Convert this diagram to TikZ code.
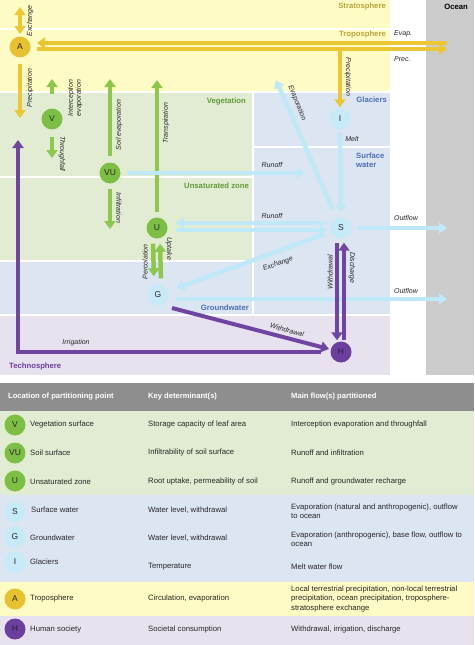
\documentclass[tikz,border=0pt]{standalone}
\usepackage{fontspec}
\setmainfont{Liberation Sans}
\usetikzlibrary{arrows.meta}
\definecolor{bgY}{HTML}{FFFBC4}
\definecolor{bgG}{HTML}{E2ECD2}
\definecolor{bgB}{HTML}{DCE5F2}
\definecolor{bgP}{HTML}{E8E2EF}
\definecolor{oceanC}{HTML}{CCCCCC}
\definecolor{hdr}{HTML}{8E8E8E}
\definecolor{arY}{HTML}{EDC633}
\definecolor{arG}{HTML}{8CC84B}
\definecolor{arB}{HTML}{BFE8F8}
\definecolor{arP}{HTML}{6F45A1}
\definecolor{ndY}{HTML}{E8C130}
\definecolor{ndG}{HTML}{7DBF45}
\definecolor{ndB}{HTML}{C6EAF8}
\definecolor{ndP}{HTML}{6C3F9E}
\definecolor{txY}{HTML}{B9A53E}
\definecolor{txG}{HTML}{5E9A38}
\definecolor{txB}{HTML}{4D6DB5}
\definecolor{txP}{HTML}{6A3D9A}
\tikzset{
  pnt/.style={circle, minimum size=21pt, inner sep=0pt, font=\fontsize{8.5}{9}\selectfont\upshape, text=black!85},
  ptY/.style={pnt, fill=ndY},
  ptG/.style={pnt, fill=ndG},
  ptB/.style={pnt, fill=ndB},
  ptP/.style={pnt, fill=ndP},
  tip/.style={-{Triangle[width=11pt,length=8pt]}},
  yarr/.style={draw=arY, line width=4.5pt, tip},
  garr/.style={draw=arG, line width=4.5pt, tip},
  barr/.style={draw=arB, line width=4.5pt, tip},
  parr/.style={draw=arP, line width=4pt, tip},
  lbl/.style={font=\fontsize{7}{8}\selectfont\itshape, inner sep=0pt, text=black!85},
  reg/.style={font=\fontsize{7.7}{9}\selectfont\bfseries\upshape, inner sep=0pt},
  tb/.style={font=\fontsize{7.7}{9.5}\selectfont\upshape\mdseries, inner sep=0pt, anchor=west, text=black!85, align=left},
  th/.style={font=\fontsize{7.6}{8}\selectfont\bfseries\upshape, inner sep=0pt, anchor=west, text=white},
}
\begin{document}
\begin{tikzpicture}[x=1pt,y=-1pt]
\useasboundingbox (0,0) rectangle (474,645);
% ---------- backgrounds ----------
\fill[bgY] (0,0) rectangle (390,28);
\fill[bgY] (0,30) rectangle (390,91);
\fill[bgG] (0,93) rectangle (252,176);
\fill[bgG] (0,178) rectangle (252,260);
\fill[bgB] (0,262) rectangle (252,314);
\fill[bgB] (254,93) rectangle (390,146);
\fill[bgB] (254,148) rectangle (390,314);
\fill[bgP] (0,316) rectangle (390,375);
\fill[oceanC] (426,0) rectangle (474,375);
% ---------- region labels ----------
\node[reg, text=txY, anchor=east] (lStrat) at (386,7) {Stratosphere};
\node[reg, text=txY, anchor=east] (lTrop) at (386,35) {Troposphere};
\node[reg, text=black, anchor=east] (lOcean) at (468,7) {Ocean};
\node[reg, text=txG, anchor=east] (lVeg) at (246,102) {Vegetation};
\node[reg, text=txG, anchor=east] (lUns) at (249,186) {Unsaturated zone};
\node[reg, text=txB, anchor=east] (lGw) at (249,308) {Groundwater};
\node[reg, text=txB, anchor=east] (lGla) at (387,100) {Glaciers};
\node[reg, text=txB, anchor=west, align=left] (lSw) at (356,160) {Surface\\water};
\node[reg, text=txP, anchor=west] (lTech) at (9,367) {Technosphere};
% ---------- partitioning points ----------
\node[ptY] (A) at (20,47) {A};
\node[ptG] (V) at (52,119) {V};
\node[ptG] (VU) at (110,173) {VU};
\node[ptG] (U) at (157,228) {U};
\node[ptB] (G) at (158,295) {G};
\node[ptB] (S) at (341,228) {S};
\node[ptB] (I) at (340,119) {I};
\node[ptP] (H) at (341,352) {H};
% ---------- free ends ----------
\coordinate (exTop) at (20,7);
\coordinate (exBot) at (20,34);
\coordinate (evR) at (447,43);
\coordinate (evL) at (37,43);
\coordinate (prL) at (37,49);
\coordinate (prR) at (447,49);
\coordinate (prI) at (340,49);
\coordinate (precA) at (20,118);
\coordinate (icpt) at (52,79);
\coordinate (thru) at (52,158);
\coordinate (soilE) at (110,79);
\coordinate (trans) at (157,80);
\coordinate (infl) at (110,229);
\coordinate (roVU) at (305,173);
\coordinate (evap) at (276,80);
\coordinate (outS) at (447,228);
\coordinate (outG) at (447,299);
\coordinate (irrC) at (18,352);
\coordinate (irrT) at (18,140);
% ---------- yellow flows ----------
\draw[yarr, {Triangle[width=11pt,length=8pt]}-{Triangle[width=11pt,length=8pt]}] (exBot) -- (exTop);
\node[lbl, rotate=90] (tEx) at (30,21) {Exchange};
\draw[yarr] (evR) -- (evL);
\draw[yarr] (prL) -- (prR);
\node[lbl, anchor=west] (tEvap) at (394,34) {Evap.};
\node[lbl, anchor=west] (tPrec) at (394,59) {Prec.};
\draw[yarr, shorten <=6pt] (A.south) -- (precA);
\node[lbl, rotate=90] (tPrA) at (30,88) {Precipitation};
\draw[yarr, shorten >=1pt] (prI) -- (I.north);
\node[lbl, rotate=-90] (tPrI) at (348,77) {Precipitation};
% ---------- green flows ----------
\draw[garr, shorten <=14pt] (V.north) -- (icpt);
\node[lbl, rotate=90, align=center] (tIc) at (75,98) {Interception\\evaporation};
\draw[garr, shorten <=7pt] (V.south) -- (thru);
\node[lbl, rotate=-90] (tTh) at (62,154) {Throughfall};
\draw[garr, shorten <=6pt] (VU.north) -- (soilE);
\node[lbl, rotate=90] (tSe) at (119,125) {Soil evaporation};
\draw[garr, shorten <=5pt] (U.north) -- (trans);
\node[lbl, rotate=90] (tTr) at (166,123) {Transpiration};
\draw[garr, shorten <=5pt] (VU.south) -- (infl);
\node[lbl, rotate=-90] (tIn) at (119,208) {Infiltration};
\draw[garr, shorten <=5pt, shorten >=8pt] ([xshift=-4pt]U.south) -- ([xshift=-4pt]G.north);
\node[lbl, rotate=90] (tPe) at (145,262) {Percolation};
\draw[garr, shorten <=6pt, shorten >=5pt] ([xshift=3pt]G.north) -- ([xshift=3pt]U.south);
\node[lbl, rotate=-90] (tUp) at (169,249) {Uptake};
% ---------- blue flows ----------
\draw[barr, shorten <=7pt] (VU.east) -- (roVU);
\node[lbl] (tRo1) at (272,165) {Runoff};
\draw[barr, shorten <=8pt, shorten >=3pt] ([yshift=-2pt]U.east) -- ([yshift=-2pt]S.west);
\draw[barr, shorten <=3pt, shorten >=8pt] ([yshift=5pt]S.west) -- ([yshift=5pt]U.east);
\node[lbl] (tRo2) at (272,216) {Runoff};
\draw[barr, shorten <=7pt, shorten >=9pt] (S) -- (G);
\node[lbl, rotate=19] (tEx2) at (278,264) {Exchange};
\draw[barr, shorten <=10pt] (S) -- (evap);
\node[lbl, rotate=-68] (tEv) at (297,103) {Evaporation};
\draw[barr, shorten <=3pt, shorten >=5pt] (I.south) -- (S.north);
\node[lbl] (tMe) at (352,139) {Melt};
\draw[barr, shorten <=5pt] (S.east) -- (outS);
\node[lbl] (tOu1) at (406,218) {Outflow};
\draw[barr, shorten <=7pt] ([yshift=-4pt]G.east) -- (outG);
\node[lbl] (tOu2) at (406,291) {Outflow};
% ---------- purple flows ----------
\draw[parr, shorten <=9pt] (H.west) -- (irrC) -- (irrT);
\node[lbl] (tIr) at (76,343) {Irrigation};
\draw[parr] ([shift={(14,13)}]G.center) -- ([shift={(-12,-3)}]H.center);
\node[lbl, rotate=-15] (tWd1) at (287,330) {Withdrawal};
\draw[parr, shorten <=4pt, shorten >=1pt] ([xshift=-4pt]S.south) -- ([xshift=-4pt]H.north);
\node[lbl, rotate=90] (tWd2) at (330,272) {Withdrawal};
\draw[parr, shorten <=1pt, shorten >=4pt] ([xshift=3pt]H.north) -- ([xshift=3pt]S.south);
\node[lbl, rotate=-90] (tDi) at (352,268) {Discharge};
% ---------- table ----------
\fill[hdr] (0,383) rectangle (474,411);
\fill[bgG] (0,411) rectangle (474,495);
\fill[bgB] (0,495) rectangle (474,582);
\fill[bgY] (0,582) rectangle (474,616);
\fill[bgP] (0,616) rectangle (474,645);
\node[th] (h1) at (8,397) {Location of partitioning point};
\node[th] (h2) at (148,397) {Key determinant(s)};
\node[th] (h3) at (291,397) {Main flow(s) partitioned};
% rows
\node[ptG] (kV) at (15,425) {V};
\node[tb] (c1V) at (30,425) {Vegetation surface};
\node[tb] (c2V) at (148,425) {Storage capacity of leaf area};
\node[tb] (c3V) at (291,425) {Interception evaporation and throughfall};
\node[ptG] (kVU) at (15,453) {VU};
\node[tb] (c1VU) at (30,453) {Soil surface};
\node[tb] (c2VU) at (148,453) {Infiltrability of soil surface};
\node[tb] (c3VU) at (291,453) {Runoff and infiltration};
\node[ptG] (kU) at (15,481) {U};
\node[tb] (c1U) at (30,482) {Unsaturated zone};
\node[tb] (c2U) at (148,482) {Root uptake, permeability of soil};
\node[tb] (c3U) at (291,482) {Runoff and groundwater recharge};
\node[ptB] (kS) at (15,512) {S};
\node[tb] (c1S) at (31,510) {Surface water};
\node[tb] (c2S) at (148,510) {Water level, withdrawal};
\node[tb] (c3S) at (291,511) {Evaporation (natural and anthropogenic), outflow\\to ocean};
\node[ptB] (kG) at (15,537) {G};
\node[tb] (c1G) at (30,538) {Groundwater};
\node[tb] (c2G) at (148,538) {Water level, withdrawal};
\node[tb] (c3G) at (291,539) {Evaporation (anthropogenic), base flow, outflow to\\ocean};
\node[ptB] (kI) at (15,562) {I};
\node[tb] (c1I) at (30,562) {Glaciers};
\node[tb] (c2I) at (148,567) {Temperature};
\node[tb] (c3I) at (291,567) {Melt water flow};
\node[ptY] (kA) at (15,599) {A};
\node[tb] (c1A) at (30,599) {Troposphere};
\node[tb] (c2A) at (148,599) {Circulation, evaporation};
\node[tb] (c3A) at (291,599) {Local terrestrial precipitation, non-local terrestrial\\precipitation, ocean precipitation, troposphere-\\stratosphere exchange};
\node[ptP] (kH) at (15,629) {H};
\node[tb] (c1H) at (30,630) {Human society};
\node[tb] (c2H) at (148,630) {Societal consumption};
\node[tb] (c3H) at (291,630) {Withdrawal, irrigation, discharge};
\end{tikzpicture}
\end{document}
